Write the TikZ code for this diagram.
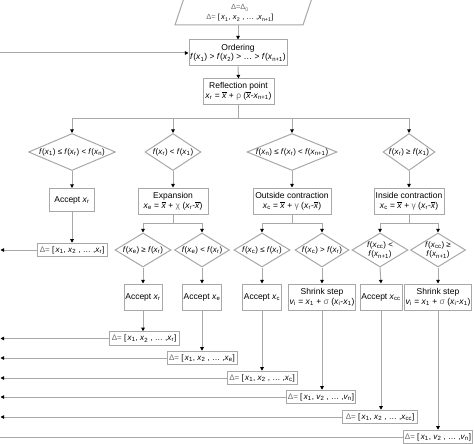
\documentclass[tikz,border=0pt]{standalone}
\usepackage{fontspec}
\setmainfont{Liberation Sans}
\usetikzlibrary{arrows.meta,shapes.geometric}
\definecolor{lg}{HTML}{A8A8A8}
\definecolor{dg}{HTML}{6E6E6E}
\newcommand\fx[1]{\textit{f}(\textit{x}\textsubscript{#1})}
\newcommand\ix[1]{\textit{x}\textsubscript{#1}}
\newcommand\iv[1]{\textit{v}\textsubscript{#1}}
\newcommand\xb{$\overline{\hbox{\textit{x}}}$}
\newcommand\gk[1]{{\color{dg}#1}}
\newcommand\dlt{{\color{dg}Δ=}}
\tikzset{
  ln/.style={draw=lg, line width=1pt},
  arr/.style={ln, -{Triangle[length=3.6pt,width=3.6pt,color=black]}},
  box/.style={draw=lg, line width=1pt, fill=white, align=center, inner sep=1.2pt,
    font=\fontsize{8.5}{9.6}\selectfont},
  dbox/.style={draw=lg, line width=1pt, fill=white, inner sep=1pt,
    minimum height=13.5pt, font=\fontsize{8}{9}\selectfont},
  dia/.style={draw=lg, line width=1pt, diamond, inner sep=0pt, fill=white},
  dtxt/.style={align=center, inner sep=0pt, font=\fontsize{8}{9.2}\selectfont},
}
\begin{document}
\begin{tikzpicture}[x=1pt,y=-1pt]
\useasboundingbox (0,0) rectangle (474,444);
% start parallelogram
\draw[ln] (175,25) -- (303,25) -- (313,-5) -- (185,-5) -- cycle;
\node[align=center, inner sep=0pt, font=\fontsize{7.5}{10}\selectfont] (ptxt) at (240,13)
  {\dlt{\color{dg}Δ\textsubscript{0}}\\ \dlt\ [\,\ix{1}, \ix{2} , … ,\ix{n+1}]};
\coordinate (pb) at (238,25);
\coordinate (lt) at (0,53);
% top boxes
\node[box, minimum width=98pt, minimum height=26pt] (ord) at (238,53)
  {Ordering\\ \fx{1} > \fx{2} > … > \fx{n+1}};
\node[box, minimum width=71pt, minimum height=25pt] (ref) at (238.5,91.5)
  {Reflection point\\ \ix{r} = \xb{} + \gk{ρ} (\xb-\ix{n+1})};
\draw[arr] (pb) -- (ord.north);
\draw[arr] (lt) -- (ord.west);
\draw[arr] (ord.south) -- (ref.north);
% first diamonds
\node[dia, minimum width=87pt, minimum height=37pt] (d1) at (72,152) {};
\node[dtxt] (d1t) at (d1) {\fx{1} ≤ \fx{r} < \fx{n}};
\node[dia, minimum width=56pt, minimum height=37pt] (d2) at (173,152) {};
\node[dtxt] (d2t) at (d2) {\fx{r} < \fx{1}};
\node[dia, minimum width=90pt, minimum height=37pt] (d3) at (292,152) {};
\node[dtxt] (d3t) at (d3) {\fx{n} ≤ \fx{r} < \fx{n+1}};
\node[dia, minimum width=52pt, minimum height=37pt] (d4) at (409,152) {};
\node[dtxt] (d4t) at (d4) {\fx{r} ≥ \fx{1}};
\coordinate (s1) at (238.5,118);
\foreach \d in {d1,d2,d3,d4}{\draw[arr] (ref.south) -- (s1) -| (\d.north);}
% first level boxes
\node[box, minimum width=45pt, minimum height=23pt] (a1) at (72,200) {Accept \ix{r}};
\node[box, minimum width=70pt, minimum height=26pt] (exp) at (173,201)
  {Expansion\\ \ix{e} = \xb{} + \gk{χ} (\ix{r}-\xb)};
\node[box, minimum width=78pt, minimum height=26pt] (out) at (292,201)
  {Outside contraction\\ \ix{c} = \xb{} + \gk{γ} (\ix{r}-\xb)};
\node[box, minimum width=70pt, minimum height=26pt] (ins) at (409,201)
  {Inside contraction\\ \ix{c} = \xb{} + \gk{γ} (\ix{r}-\xb)};
\draw[arr] (d1.south) -- (a1.north);
\draw[arr] (d2.south) -- (exp.north);
\draw[arr] (d3.south) -- (out.north);
\draw[arr] (d4.south) -- (ins.north);
% second diamonds
\node[dia, minimum width=56pt, minimum height=34pt] (e1) at (143,250) {};
\node[dtxt] (e1t) at (e1) {\fx{e} ≥ \fx{r}};
\node[dia, minimum width=55pt, minimum height=34pt] (e2) at (202,250) {};
\node[dtxt] (e2t) at (e2) {\fx{e} < \fx{r}};
\node[dia, minimum width=56pt, minimum height=34pt] (c1) at (262,250) {};
\node[dtxt] (c1t) at (c1) {\fx{c} ≤ \fx{r}};
\node[dia, minimum width=54pt, minimum height=34pt] (c2) at (322,250) {};
\node[dtxt] (c2t) at (c2) {\fx{c} > \fx{r}};
\node[dia, minimum width=56pt, minimum height=34pt] (i1) at (380,250) {};
\node[dtxt] (i1t) at (i1) {\fx{cc} <\\ \fx{n+1}};
\node[dia, minimum width=55pt, minimum height=34pt] (i2) at (438,250) {};
\node[dtxt] (i2t) at (i2) {\fx{cc} ≥\\ \fx{n+1}};
\coordinate (se) at (173,223);
\coordinate (sc) at (292,223);
\coordinate (si) at (409,223);
\draw[arr] (exp.south) -- (se) -| (e1.north);
\draw[arr] (exp.south) -- (se) -| (e2.north);
\draw[arr] (out.south) -- (sc) -| (c1.north);
\draw[arr] (out.south) -- (sc) -| (c2.north);
\draw[arr] (ins.south) -- (si) -| (i1.north);
\draw[arr] (ins.south) -- (si) -| (i2.north);
% second level boxes
\node[box, minimum width=38pt, minimum height=26pt] (b1) at (143,297) {Accept \ix{r}};
\node[box, minimum width=39pt, minimum height=26pt] (b2) at (202,297) {Accept \ix{e}};
\node[box, minimum width=39pt, minimum height=26pt] (b3) at (262,297) {Accept \ix{c}};
\node[box, minimum width=67pt, minimum height=26pt] (b4) at (322,297)
  {Shrink step\\ \iv{i} = \ix{1} + \gk{σ} (\ix{i}-\ix{1})};
\node[box, minimum width=42pt, minimum height=26pt] (b5) at (381,297) {Accept \ix{cc}};
\node[box, minimum width=65pt, minimum height=26pt] (b6) at (438,297)
  {Shrink step\\ \iv{i} = \ix{1} + \gk{σ} (\ix{i}-\ix{1})};
\draw[arr] (e1.south) -- (b1.north);
\draw[arr] (e2.south) -- (b2.north);
\draw[arr] (c1.south) -- (b3.north);
\draw[arr] (c2.south) -- (b4.north);
\draw[arr] (i1.south) -- (b5.north);
\draw[arr] (i2.south) -- (b6.north);
% result simplex boxes
\node[dbox, minimum width=70pt] (r1) at (72,250) {\dlt\ [\,\ix{1}, \ix{2} , … ,\ix{r}]};
\node[dbox, minimum width=70pt] (r2) at (144,338.5) {\dlt\ [\,\ix{1}, \ix{2} , … ,\ix{r}]};
\node[dbox, minimum width=70pt] (r3) at (202,358) {\dlt\ [\,\ix{1}, \ix{2} , … ,\ix{e}]};
\node[dbox, minimum width=70pt] (r4) at (262,378) {\dlt\ [\,\ix{1}, \ix{2} , … ,\ix{c}]};
\node[dbox, minimum width=69pt] (r5) at (321,397) {\dlt\ [\,\ix{1}, \textit{v}\textsubscript{2} , … ,\iv{n}]};
\node[dbox, minimum width=75pt] (r6) at (380,417) {\dlt\ [\,\ix{1}, \ix{2} , … ,\ix{cc}]};
\node[dbox, minimum width=67pt] (r7) at (438,437) {\dlt\ [\,\ix{1}, \textit{v}\textsubscript{2} , … ,\iv{n}]};
\draw[arr] (a1.south) -- (a1.south |- r1.north);
\draw[arr] (b1.south) -- (b1.south |- r2.north);
\draw[arr] (b2.south) -- (b2.south |- r3.north);
\draw[arr] (b3.south) -- (b3.south |- r4.north);
\draw[arr] (b4.south) -- (b4.south |- r5.north);
\draw[arr] (b5.south) -- (b5.south |- r6.north);
\draw[arr] (b6.south) -- (b6.south |- r7.north);
\coordinate (l1) at (0.5,250);
\coordinate (l2) at (0.5,338.5);
\coordinate (l3) at (0.5,358);
\coordinate (l4) at (0.5,378);
\coordinate (l5) at (0.5,397);
\coordinate (l6) at (0.5,417);
\coordinate (l7) at (0,437);
\draw[arr] (r1.west) -- (l1);
\draw[arr] (r2.west) -- (l2);
\draw[arr] (r3.west) -- (l3);
\draw[arr] (r4.west) -- (l4);
\draw[arr] (r5.west) -- (l5);
\draw[arr] (r6.west) -- (l6);
\draw[ln] (r7.west) -- (l7);
\end{tikzpicture}
\end{document}
